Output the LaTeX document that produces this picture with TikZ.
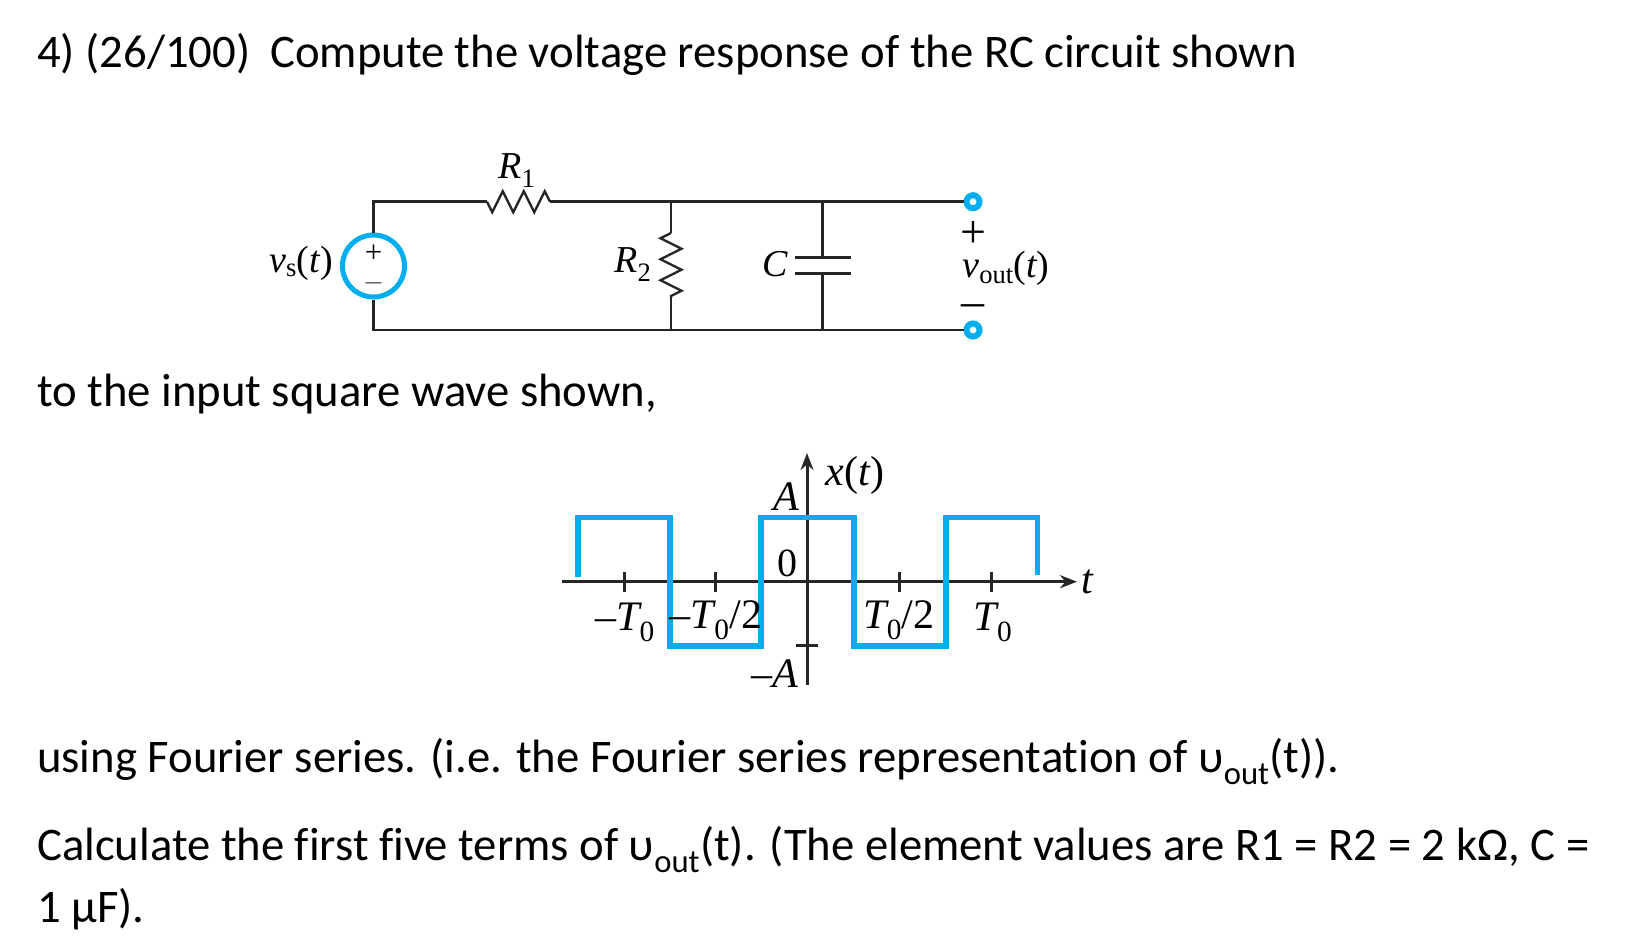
\documentclass[tikz,border=0pt]{standalone}
\usepackage{fontspec}
\setmainfont{Carlito}[Ligatures=CommonOff]
\newfontfamily\figfont{Liberation Serif}
\usepackage{xcolor}
\definecolor{wavecolor}{RGB}{0, 174, 239}
\usetikzlibrary{arrows.meta, decorations.pathmorphing}
\def\lbl#1{{\figfont\itshape #1}}
\def\lsub#1{\textsubscript{\figfont\upshape #1}}
\tikzset{
  prose/.style={anchor=base west,inner sep=0pt,font=\fontsize{46.7}{50}\selectfont},
  figlabel/.style={inner sep=0pt,font=\fontsize{38}{40}\selectfont},
  graphlabel/.style={inner sep=0pt,font=\fontsize{42}{44}\selectfont},
  wire/.style={draw=black!85,line width=2.8pt},
  zig/.style={wire,line width=2.4pt,decorate,decoration={zigzag,amplitude=10.5pt,segment length=21pt,mirror}},
  port/.style={circle,draw=wavecolor,line width=6pt,fill=white,minimum size=13pt,inner sep=0pt},
  wave/.style={draw=wavecolor,line width=5.5pt,line join=miter},
  axisline/.style={draw=black!85,line width=3pt},
}
\begin{document}
\begin{tikzpicture}[x=1pt,y=-1pt]
  \useasboundingbox (0,0) rectangle (1625,945);
  % text lines
  \node[prose] (line1) at (37,67) {4) (26/100)\hspace{0.2em} Compute the voltage response of the RC circuit shown};
  \node[prose] (line2) at (37,406) {to the input square wave shown,};
  \node[prose] (line3) at (37,772) {using Fourier series. (i.e. the Fourier series representation of υ\textsubscript{out}(t)).};
  \node[prose] (line4) at (37,860) {Calculate the first five terms of υ\textsubscript{out}(t). (The element values are R1 = R2 = 2 kΩ, C =};
  \node[prose] (line5) at (37,922) {1 µF).};
  % circuit
  \node[circle,draw=wavecolor,line width=5pt,minimum size=62pt,inner sep=0pt] (vs) at (373.5,266) {};
  \node[port] (outp) at (973,201.7) {};
  \node[port] (outn) at (973,330) {};
  \coordinate (r1a) at (487,201.7);
  \coordinate (r1b) at (550,201.7);
  \coordinate (r2t) at (671,201.7);
  \coordinate (r2a) at (671,233);
  \coordinate (r2b) at (671,298);
  \coordinate (r2n) at (671,330);
  \coordinate (ct) at (822.5,201.7);
  \coordinate (ca) at (822.5,257.3);
  \coordinate (cb) at (822.5,273.3);
  \coordinate (cn) at (822.5,330);
  \draw[wire] (vs.north) |- (r1a);
  \draw[wire] (r1b) -- (outp.west);
  \draw[wire] (vs.south) |- (outn.west);
  \draw[zig] (r1a) -- (r1b);
  \draw[wire,line width=2.4pt] (r2t) -- (r2a) (r2b) -- (r2n);
  \draw[zig] (r2a) -- (r2b);
  \draw[wire,line width=2.4pt] (ct) -- (ca) (cb) -- (cn);
  \draw[wire] ([xshift=-28pt]ca) -- ([xshift=28pt]ca);
  \draw[wire] ([xshift=-28pt]cb) -- ([xshift=28pt]cb);
  \node[figlabel] (lr1) at (517,171) {\lbl{R}\lsub{1}};
  \node[figlabel] (lr2) at (633,265) {\lbl{R}\lsub{2}};
  \node[figlabel] (lc) at (775,264) {\lbl{C}};
  \node[figlabel] (lvs) at (301,263) {\lbl{v}\lsub{s}\figfont(\lbl{t})};
  \node[figlabel,font=\fontsize{31}{33}\selectfont\figfont] (vsp) at (373.5,254) {+};
  \node[figlabel,font=\fontsize{31}{33}\selectfont\figfont,text=black!60] (vsm) at (373.5,286) {–};
  \node[figlabel,font=\fontsize{46}{48}\selectfont\figfont] (lp) at (973,235) {+};
  \node[figlabel,font=\fontsize{46}{48}\selectfont\figfont] (lm) at (973,311) {–};
  \node[figlabel] (lvout) at (1006,268) {\lbl{v}\lsub{out}\figfont(\lbl{t})};
  % square wave
  \coordinate (ax0) at (561.6,581.7);
  \coordinate (ax1) at (1077,581.7);
  \coordinate (ay0) at (807,685);
  \coordinate (ay1) at (807,453);
  \draw[axisline,-{Stealth[length=17pt,width=13pt]}] (ax0) -- (ax1);
  \draw[axisline,-{Stealth[length=17pt,width=13pt]}] (ay0) -- (ay1);
  \foreach \tx in {624,715,899.5,991}
    \draw[axisline] (\tx,571.7) -- (\tx,591.7);
  \draw[axisline] (796,645.5) -- (818,645.5);
  \coordinate (w0) at (578,576.7);
  \coordinate (w1) at (1037.5,575);
  \draw[wave] (w0) -- (578,517.3) -- (670,517.3) -- (670,646) -- (761,646) -- (761,517.3)
    -- (854,517.3) -- (854,646) -- (946,646) -- (946,517.3) -- (1037.5,517.3) -- (w1);
  \node[graphlabel] (lx) at (855,475) {\lbl{x}\figfont(\lbl{t})};
  \node[graphlabel] (la) at (786,497) {\lbl{A}};
  \node[graphlabel,font=\fontsize{40}{42}\selectfont\figfont] (lz) at (787,563) {0};
  \node[graphlabel] (l1) at (625,622) {\figfont–\lbl{T}\lsub{0}};
  \node[graphlabel] (l2) at (716,620) {\figfont–\lbl{T}\lsub{0}\figfont/2};
  \node[graphlabel] (l3) at (899,620) {\lbl{T}\lsub{0}\figfont/2};
  \node[graphlabel] (l4) at (993,622) {\lbl{T}\lsub{0}};
  \node[graphlabel] (l5) at (775,674) {\figfont–\lbl{A}};
  \node[graphlabel] (lt) at (1087,582) {\lbl{t}};
\end{tikzpicture}
\end{document}
